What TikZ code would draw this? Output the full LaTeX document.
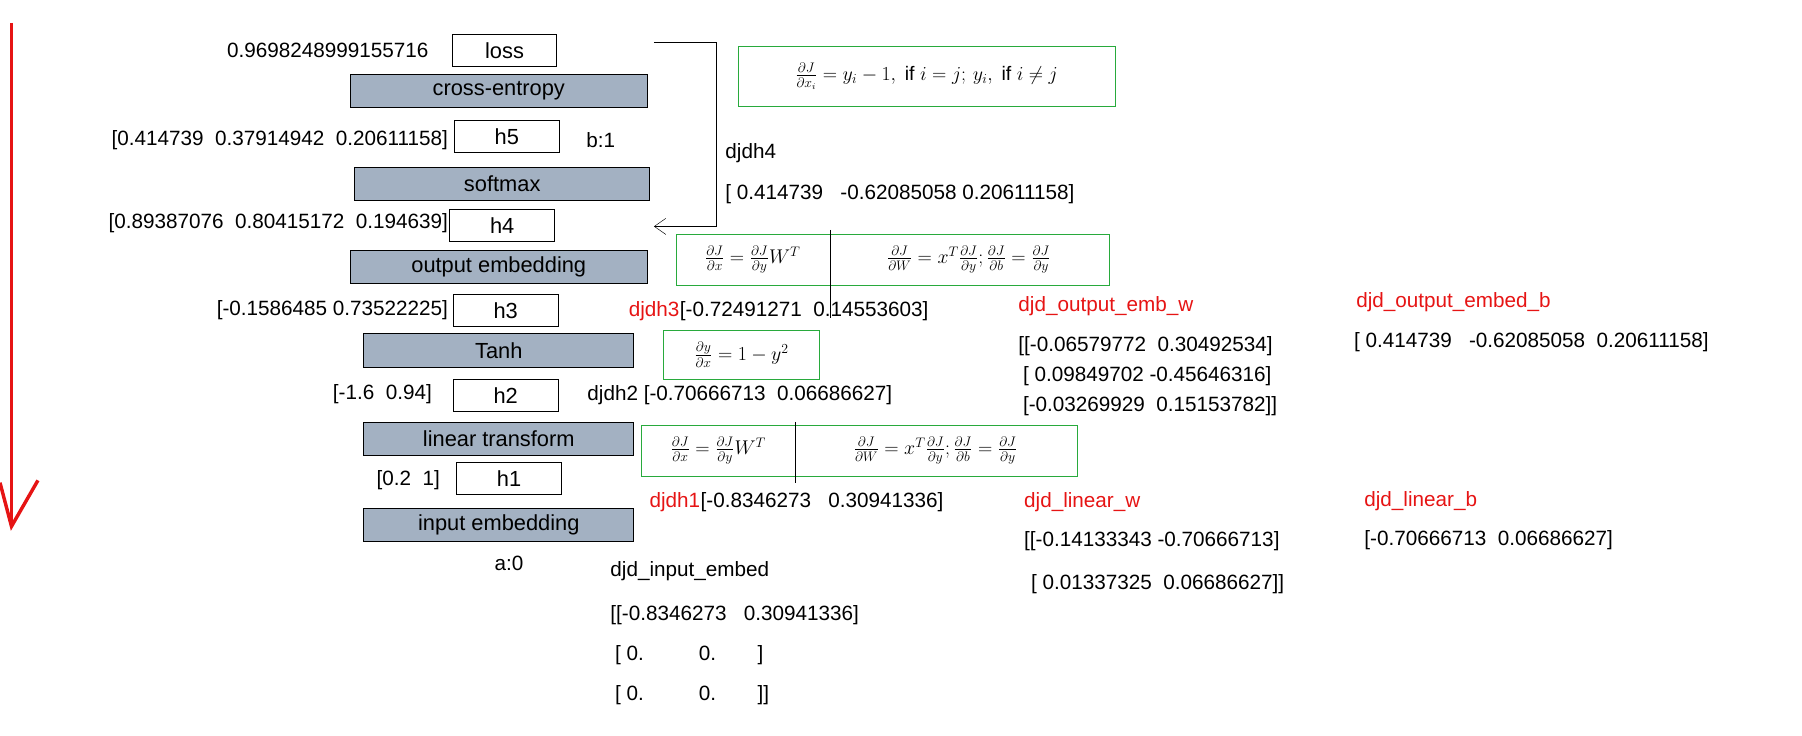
\documentclass[tikz,border=0pt]{standalone}
\usepackage{fontspec}
\usepackage{amsmath}
\setmainfont{Liberation Sans}
\usetikzlibrary{arrows.meta}
\definecolor{myred}{RGB}{230,20,20}
\definecolor{mygray}{RGB}{163,177,194}
\definecolor{mygreen}{RGB}{40,170,60}
\begin{document}
\begin{tikzpicture}[x=1pt,y=-1pt,
  txt/.style={inner sep=0pt,font=\fontsize{18}{20}\selectfont},
  redtxt/.style={txt,text=myred},
  hbox/.style={draw,thick,minimum width=91pt,minimum height=28pt,inner sep=0pt,font=\fontsize{19}{20}\selectfont},
  layer/.style={draw,thick,fill=mygray,minimum height=29pt,inner sep=0pt,font=\fontsize{19}{20}\selectfont},
  gbox/.style={draw=mygreen,inner sep=0pt,font=\fontsize{17}{20}\selectfont}]
\useasboundingbox (0,0) rectangle (1568,640);
% red arrow
\coordinate (rs) at (10,20); \coordinate (re) at (10,458);
\draw[myred,line width=3pt] (rs) -- (re);
\draw[myred,line width=3pt] (0,420) -- (re) -- (33,418);
% layers
\node[hbox] (loss) at (439,44) {loss};
\node[layer,minimum width=258pt] (ce) at (434,79) {cross-entropy};
\node[hbox] (h5) at (441,119) {h5};
\node[layer,minimum width=257pt] (sm) at (437,160) {softmax};
\node[hbox] (h4) at (437,196) {h4};
\node[layer,minimum width=258pt] (oe) at (434,232) {output embedding};
\node[hbox] (h3) at (440,270) {h3};
\node[layer,minimum width=235pt] (th) at (434,305) {Tanh};
\node[hbox] (h2) at (440,344) {h2};
\node[layer,minimum width=235pt] (lt) at (434,382) {linear transform};
\node[hbox] (h1) at (443,416) {h1};
\node[layer,minimum width=235pt] (ie) at (434,457) {input embedding};
\node[txt] (a0) at (443,490) {a:0};
% left values
\node[txt,anchor=east] (vl) at (373,44) {0.9698248999155716};
\node[txt,anchor=east] (v5) at (390,122) {[0.414739\ \ 0.37914942\ \ 0.20611158]};
\node[txt,anchor=west] (b1) at (510,122) {b:1};
\node[txt,anchor=east] (v4) at (390,194) {[0.89387076\ \ 0.80415172\ \ 0.194639]};
\node[txt,anchor=east] (v3) at (390,270) {[-0.1586485 0.73522225]};
\node[txt,anchor=east] (v2) at (376,343) {[-1.6\ \ 0.94]};
\node[txt,anchor=east] (v1) at (383,418) {[0.2\ \ 1]};
% bracket arrow
\coordinate (c1) at (569,37); \coordinate (c2) at (569,197);
\draw[thin,-{Straight Barb[length=10pt,width=14pt]}] (c1) -- (623,37) -- (623,197) -- (c2);
% formulas
\node[gbox,anchor=north west,minimum width=328pt,minimum height=52pt] (f1) at (642,40)
  {$\frac{\partial J}{\partial x_i}=y_i-1,\ \text{if } i=j;\, y_i,\ \text{if } i\neq j$};
\node[txt,anchor=west] (d4) at (631,133) {djdh4};
\node[txt,anchor=west] (d4v) at (631,169) {[ 0.414739\ \ \ -0.62085058 0.20611158]};
\node[gbox,anchor=north west,minimum width=377pt,minimum height=44pt] (f2) at (588,204) {};
\node[font=\fontsize{17}{20}\selectfont,inner sep=0pt] (f2a) at (655,226) {$\frac{\partial J}{\partial x}=\frac{\partial J}{\partial y}W^T$};
\node[font=\fontsize{17}{20}\selectfont,inner sep=0pt] (f2b) at (843,226) {$\frac{\partial J}{\partial W}=x^T\frac{\partial J}{\partial y};\frac{\partial J}{\partial b}=\frac{\partial J}{\partial y}$};
\draw (722,200) -- (722,277);
\node[redtxt,anchor=west] (d3) at (547,271) {djdh3};
\node[txt,anchor=west] (d3v) at (d3.east) {[-0.72491271\ \ 0.14553603]};
\node[gbox,anchor=north west,minimum width=136pt,minimum height=43pt] (f3) at (577,287) {$\frac{\partial y}{\partial x}=1-y^2$};
\node[txt,anchor=west] (d2) at (511,344) {djdh2 [-0.70666713\ \ 0.06686627]};
\node[gbox,anchor=north west,minimum width=379pt,minimum height=44pt] (f4) at (558,370) {};
\node[font=\fontsize{17}{20}\selectfont,inner sep=0pt] (f4a) at (625,392) {$\frac{\partial J}{\partial x}=\frac{\partial J}{\partial y}W^T$};
\node[font=\fontsize{17}{20}\selectfont,inner sep=0pt] (f4b) at (814,392) {$\frac{\partial J}{\partial W}=x^T\frac{\partial J}{\partial y};\frac{\partial J}{\partial b}=\frac{\partial J}{\partial y}$};
\draw (692,367) -- (692,420);
\node[redtxt,anchor=west] (d1) at (565,437) {djdh1};
\node[txt,anchor=west] (d1v) at (d1.east) {[-0.8346273\ \ \ 0.30941336]};
% input embed grad
\node[txt,anchor=west] (ie0) at (531,497) {djd\_input\_embed};
\node[txt,anchor=west] (ie1) at (531,535) {[[-0.8346273\ \ \ 0.30941336]};
\node[txt,anchor=west] (ie2) at (535,570) {[ 0.\hspace{48pt}0.\hspace{36pt}]};
\node[txt,anchor=west] (ie3) at (535,605) {[ 0.\hspace{48pt}0.\hspace{36pt}]]};
% right column
\node[redtxt,anchor=west] (ow) at (886,266) {djd\_output\_emb\_w};
\node[txt,anchor=west] (ow1) at (886,301) {[[-0.06579772\ \ 0.30492534]};
\node[txt,anchor=west] (ow2) at (890,327) {[ 0.09849702 -0.45646316]};
\node[txt,anchor=west] (ow3) at (890,353) {[-0.03269929\ \ 0.15153782]]};
\node[redtxt,anchor=west] (ob) at (1180,263) {djd\_output\_embed\_b};
\node[txt,anchor=west] (ob1) at (1178,298) {[ 0.414739\ \ \ -0.62085058\ \ 0.20611158]};
\node[redtxt,anchor=west] (lw) at (891,437) {djd\_linear\_w};
\node[txt,anchor=west] (lw1) at (891,471) {[[-0.14133343 -0.70666713]};
\node[txt,anchor=west] (lw2) at (897,508) {[ 0.01337325\ \ 0.06686627]]};
\node[redtxt,anchor=west] (lb) at (1187,436) {djd\_linear\_b};
\node[txt,anchor=west] (lb1) at (1187,470) {[-0.70666713\ \ 0.06686627]};
\end{tikzpicture}
\end{document}
